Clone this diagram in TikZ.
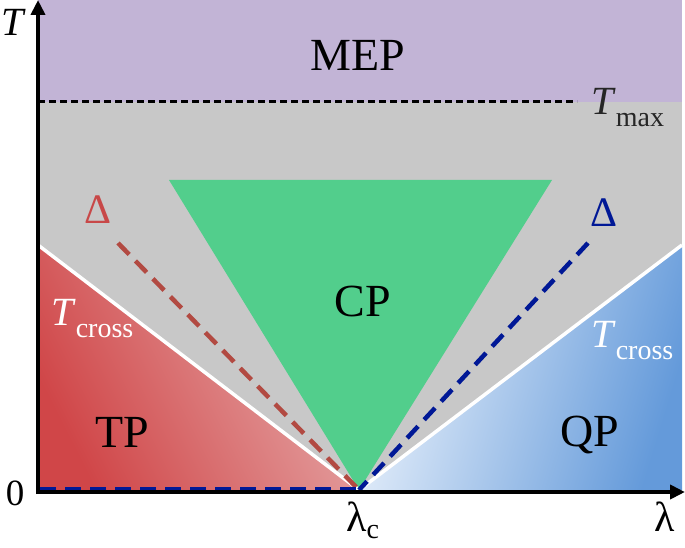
\documentclass[tikz,border=0pt]{standalone}
\usepackage{fontspec}
\setmainfont{Liberation Serif}
\usetikzlibrary{arrows.meta}

\definecolor{mepcol}{RGB}{194,180,214}
\definecolor{bgcol}{RGB}{200,200,200}
\definecolor{cpcol}{RGB}{82,206,140}
\definecolor{tpdark}{RGB}{208,70,72}
\definecolor{tplight}{RGB}{230,172,172}
\definecolor{qplight}{RGB}{236,243,252}
\definecolor{qpdark}{RGB}{100,154,218}
\definecolor{gapred}{RGB}{178,74,66}
\definecolor{gapblue}{RGB}{0,24,150}
\definecolor{deltared}{RGB}{200,72,72}

% T with an upright subscript
\newcommand{\Tsub}[1]{\textit{T}\raisebox{-0.3em}{\fontsize{28}{28}\selectfont #1}}

\begin{document}
\begin{tikzpicture}[x=1pt, y=-1pt,
    phase/.style={font=\fontsize{46}{50}\selectfont, inner sep=0pt},
    tlabel/.style={font=\fontsize{40}{44}\selectfont, inner sep=0pt, anchor=base west},
    gapline/.style={line width=4.5pt, dash pattern=on 16pt off 9pt},
    crossline/.style={white, line width=3.5pt},
    axis/.style={line width=4.5pt, -{Triangle[length=15pt,width=14pt]}}]
    \useasboundingbox (0,0) rectangle (685,548);

    % --- REGIONS ---
    \fill[mepcol] (38,0) rectangle (682,102);
    \fill[bgcol] (38,102) rectangle (682,490);

    % Critical fan
    \fill[cpcol] (169,180) -- (552,180) -- (359,490) -- cycle;

    % Thermal and quantum sides
    \shade[bottom color=tpdark, top color=tplight, shading angle=-63]
        (38,245) -- (359,490) -- (38,490) -- cycle;
    \shade[bottom color=qplight, top color=qpdark, shading angle=-107]
        (359,490) -- (682,245) -- (682,490) -- cycle;

    % Crossover lines
    \draw[crossline] (38,245) -- (359,490) -- (682,245);

    % Gap lines
    \draw[gapline, gapred] (118,243) -- (359,490);
    \draw[gapline, gapblue] (588,243) -- (359,490);
    \draw[gapline, gapblue] (40,489) -- (359,489);

    % T_max
    \draw[line width=3pt, dash pattern=on 7pt off 4pt] (38,102) -- (577,102);

    % --- AXES ---
    \draw[axis] (38,494) -- (38,0);
    \draw[axis] (36,492) -- (685,492);

    % --- LABELS ---
    \node[phase] (mep) at (358,55) {MEP};
    \node[phase, anchor=base] (cp) at (363,316) {CP};
    \node[phase, anchor=base] (tp) at (122,447) {TP};
    \node[phase, anchor=base] (qp) at (590,446) {QP};

    \node[tlabel, text=black!85] (tmax) at (591,115) {\Tsub{max}};
    \node[tlabel, text=white] (tcl) at (51,325) {\Tsub{cross}};
    \node[tlabel, text=white] (tcr) at (591,347) {\Tsub{cross}};

    \node[font=\fontsize{42}{44}\selectfont, inner sep=0pt, anchor=base, text=deltared] (dl) at (98,223) {Δ};
    \node[font=\fontsize{42}{44}\selectfont, inner sep=0pt, anchor=base, text=gapblue] (dr) at (604,226) {Δ};

    \node[font=\fontsize{40}{44}\selectfont\itshape, inner sep=0pt, anchor=base] (taxis) at (13,36) {T};
    \node[font=\fontsize{37}{40}\selectfont, inner sep=0pt, anchor=base] (zero) at (15,505) {0};
    \node[font=\fontsize{42}{44}\selectfont, inner sep=0pt, anchor=base west] (lc) at (346,531)
        {λ\raisebox{-0.18em}{\fontsize{28}{30}\selectfont c}};
    \node[font=\fontsize{42}{44}\selectfont, inner sep=0pt, anchor=base] (lam) at (665,531) {λ};
\end{tikzpicture}
\end{document}
